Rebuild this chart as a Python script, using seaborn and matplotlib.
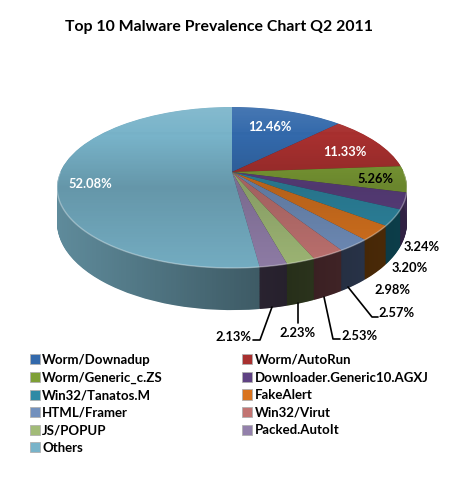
# Top 10 malware pie, tilted pie built from stacked seaborn-styled wedges
import numpy as np
import seaborn as sns
import matplotlib.pyplot as plt
from matplotlib.patches import Patch
from matplotlib.path import Path
from matplotlib.transforms import Transform

names = ['Worm/Downadup', 'Worm/AutoRun', 'Worm/Generic_c.ZS',
         'Downloader.Generic10.AGXJ', 'Win32/Tanatos.M', 'FakeAlert',
         'HTML/Framer', 'Win32/Virut', 'JS/POPUP', 'Packed.AutoIt', 'Others']
values = [12.46, 11.33, 5.26, 3.24, 3.20, 2.98, 2.57, 2.53, 2.23, 2.13, 52.08]
top_colors = ['#3369ab', '#a8302f', '#7e9f36', '#5f4283', '#2f8aa5', '#d9741f',
              '#7290bd', '#c27472', '#a2bb78', '#9380ab', '#78b3c9']
wall_colors = ['#1d3c63', '#5e1a1a', '#46591e', '#3a2850', '#0f4a58', '#5c3409',
               '#35435e', '#5a3236', '#424f2c', '#40364a', '#5f8b9b']

sns.set_style('white')
plt.rcParams['font.family'] = ['Lato', 'DejaVu Sans']


class Tilt(Transform):
    """Unit disk to pixel coords, with perspective, z is px down at the apex."""
    input_dims = 2
    output_dims = 2

    def __init__(self, z=0):
        super().__init__()
        self.z = z

    def transform_non_affine(self, xy):
        xy = np.asarray(xy, dtype=float)
        w = 1 + 0.1926 * xy[:, 1]
        return np.column_stack([232 + 171.7 * xy[:, 0] / w,
                                172 - 77.5 * xy[:, 1] / w + self.z / w])


fig = plt.figure(figsize=(4.51, 4.79), dpi=100, facecolor='white')
ax = fig.add_axes([0, 0, 1, 1])


def draw_layer(colors, z, order):
    wedges, _ = ax.pie(values, colors=colors, startangle=90, counterclock=False,
                       wedgeprops={'linewidth': 0})
    for w in wedges:
        w.set_transform(Tilt(z) + ax.transData)
        w.set_zorder(order)


# side wall first, bottom layer up
depth = 34
for z in np.arange(depth, 0, -0.5):
    draw_layer(wall_colors, z, 2 + (depth - z) * 0.01)

# top face
draw_layer(top_colors, 0, 5)

# shading over the wall, left to right
wall_shade = np.zeros((1, 256, 4))
wall_shade[0, :, 3] = np.concatenate([np.linspace(0.0, 0.40, 170), np.linspace(0.40, 0.15, 86)])
theta = np.linspace(np.pi, 2 * np.pi, 200)
arc = np.column_stack([np.cos(theta), np.sin(theta)])
low = Tilt(depth).transform(arc)
upp = Tilt(0).transform(arc)
wall_path = Path(np.concatenate([upp, low[::-1]]))
im = ax.imshow(wall_shade, extent=(57, 407, 320, 180), aspect='auto', zorder=4)
im.set_clip_path(wall_path, ax.transData)

# shading over the top face, light at the back, darkest around the apex
face_shade = np.zeros((256, 1, 4))
alpha = np.interp(np.linspace(0, 1, 256), [0, 0.18, 0.5, 1], [0.10, 0.0, 0.16, 0.04])
face_shade[:40, 0, :3] = 1
face_shade[:, 0, 3] = alpha
im = ax.imshow(face_shade, extent=(57, 407, 268, 107), aspect='auto', zorder=6)
im.set_clip_path(Path.unit_circle(), Tilt(0) + ax.transData)
ax.plot(upp[:, 0], upp[:, 1], color='white', alpha=0.35, lw=1, zorder=7)

ax.set_aspect('auto')
ax.set_xlim(0, 451)
ax.set_ylim(479, 0)
ax.axis('off')

# value labels
label_xy = [(270, 127), (345, 152), (375, 179), (422, 247), (410, 268), (392, 290),
            (397, 313), (360, 336), (298, 333), (233, 337), (90, 184)]
label_colors = ['white', 'white', 'black'] + ['black'] * 7 + ['white']
for v, (x, y), c in zip(values, label_xy, label_colors):
    ax.text(x, y, f'{v:.2f}%', color=c, fontsize=9.3, fontweight='bold',
            ha='center', va='center', zorder=9)

# leader lines
leaders = [[(348, 287), (372, 317), (378, 317)],
           [(324, 297), (333, 339), (340, 339)],
           [(298, 303), (298, 323)],
           [(272, 307), (260, 340), (253, 340)]]
for pts in leaders:
    ax.plot(*zip(*pts), color='black', lw=1.2, zorder=8)

ax.text(219, 27, 'Top 10 Malware Prevalence Chart Q2 2011', fontsize=11.4,
        fontweight='bold', color='black', ha='center', va='center')

# legend is filled by column, so split entries to read across rows
handles = [Patch(facecolor=c, edgecolor='#b0b0b0', lw=0.6) for c in top_colors]
order = list(range(0, 11, 2)) + list(range(1, 11, 2))
ax.legend([handles[i] for i in order], [names[i] for i in order], ncol=2,
          loc='upper left', bbox_to_anchor=(30 / 451, 1 - 354 / 479), frameon=False,
          prop={'size': 9.5, 'weight': 'bold'}, labelcolor='black',
          handlelength=0.78, handleheight=0.8,
          handletextpad=0.15, columnspacing=6.0, labelspacing=0.42,
          borderpad=0, borderaxespad=0)

fig.savefig('out.png', dpi=100)
